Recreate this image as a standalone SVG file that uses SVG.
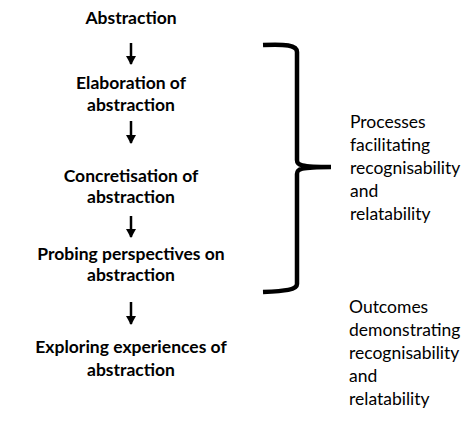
<svg xmlns="http://www.w3.org/2000/svg" width="474" height="440" viewBox="0 0 474 440">
<style>
.b{font-family:Lato,"Open Sans","Liberation Sans",sans-serif;font-weight:bold;font-size:17.5px;fill:#000;text-anchor:middle}
.r{font-family:Lato,"Open Sans","Liberation Sans",sans-serif;font-size:17.5px;fill:#000}
.ln{stroke:#000;stroke-width:2.5;fill:none}
</style>
<defs>
<marker id="ah" viewBox="0 0 9 10" refX="8" refY="5" markerWidth="9" markerHeight="10" markerUnits="userSpaceOnUse" orient="auto">
<path d="M0,0 L9,5 L0,10 z" fill="#000"/>
</marker>
</defs>
<rect width="474" height="440" fill="#fff"/>
<g id="n1"><text class="b" x="131" y="24">Abstraction</text></g>
<g id="n2"><text class="b" x="131" y="89">Elaboration of</text><text class="b" x="131" y="111">abstraction</text></g>
<g id="n3"><text class="b" x="131" y="182">Concretisation of</text><text class="b" x="131" y="203">abstraction</text></g>
<g id="n4"><text class="b" x="131" y="260">Probing perspectives on</text><text class="b" x="131" y="281">abstraction</text></g>
<g id="n5"><text class="b" x="131" y="353">Exploring experiences of</text><text class="b" x="131" y="376">abstraction</text></g>
<g id="bracket"><path d="M263,45 C285,44 297,45 297,52 L297,160 C297,165 300,167 331,167 C300,167 297,169 297,174 L297,284 C297,290 285,291 263,292" fill="none" stroke="#000" stroke-width="4.5" stroke-linejoin="miter"/></g>
<g id="t1"><text class="r" x="350" y="128">Processes</text><text class="r" x="350" y="151">facilitating</text><text class="r" x="350" y="174">recognisability</text><text class="r" x="350" y="197">and</text><text class="r" x="350" y="220">relatability</text></g>
<g id="t2"><text class="r" x="349" y="313">Outcomes</text><text class="r" x="349" y="336">demonstrating</text><text class="r" x="349" y="359">recognisability</text><text class="r" x="349" y="382">and</text><text class="r" x="349" y="405">relatability</text></g>
<g id="connectors">
<line class="ln" x1="131" y1="43" x2="131" y2="64" marker-end="url(#ah)"/>
<line class="ln" x1="131" y1="121" x2="131" y2="143" marker-end="url(#ah)"/>
<line class="ln" x1="131" y1="216" x2="131" y2="237" marker-end="url(#ah)"/>
<line class="ln" x1="131" y1="302" x2="131" y2="324" marker-end="url(#ah)"/>
</g>
</svg>
